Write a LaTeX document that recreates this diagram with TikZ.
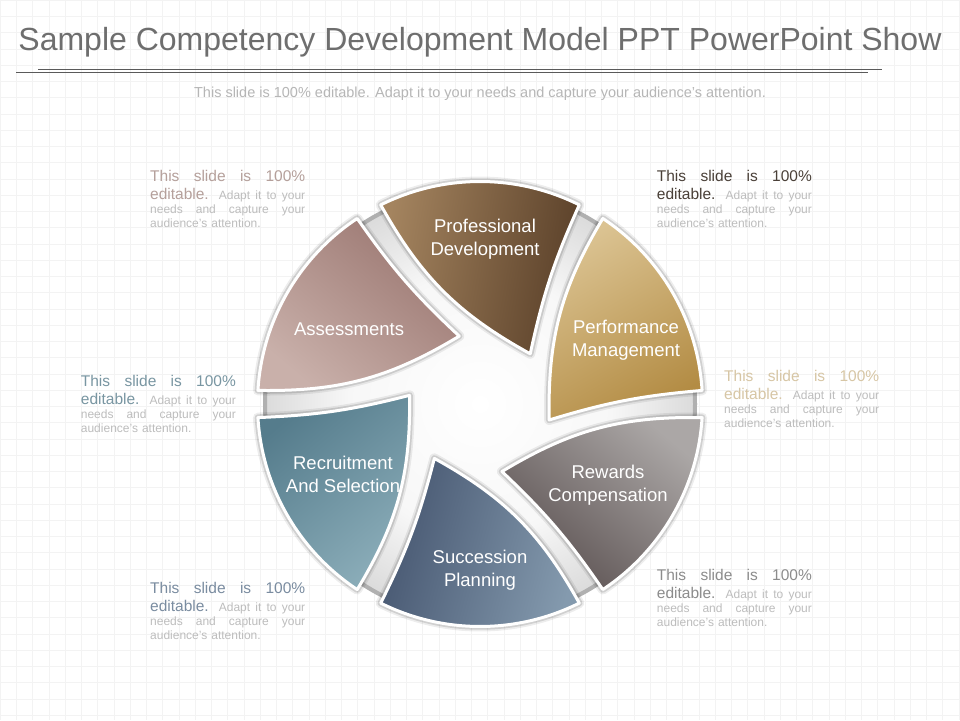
\documentclass[tikz,border=0pt]{standalone}
\usepackage{fontspec}
\setmainfont{Liberation Sans}
\usetikzlibrary{calc, positioning}

\definecolor{titlegray}{HTML}{6E6E6E}
\definecolor{subgray}{HTML}{B6B6B6}
\definecolor{rulegray}{HTML}{5A5A5A}
\definecolor{gridgray}{HTML}{F3F3F3}
\definecolor{notegray}{HTML}{BDBDBD}
\definecolor{ringgray}{HTML}{DADADA}
\definecolor{ringedge}{HTML}{B0B0B0}
% blade shades
\definecolor{profA}{HTML}{A4845F}\definecolor{profB}{HTML}{5A4029}
\definecolor{perfA}{HTML}{DBC392}\definecolor{perfB}{HTML}{B38C44}
\definecolor{rewdA}{HTML}{ABA7A6}\definecolor{rewdB}{HTML}{5B5151}
\definecolor{succA}{HTML}{465670}\definecolor{succB}{HTML}{849AAE}
\definecolor{recrA}{HTML}{557C8C}\definecolor{recrB}{HTML}{8BADB9}
\definecolor{asmtA}{HTML}{9B7771}\definecolor{asmtB}{HTML}{C9B0AA}
% note heads
\definecolor{asmtnote}{HTML}{B5A09B}
\definecolor{profnote}{HTML}{4A4038}
\definecolor{recrnote}{HTML}{7996A2}
\definecolor{perfnote}{HTML}{D7C6A5}
\definecolor{succnote}{HTML}{7A8CA0}
\definecolor{rewdnote}{HTML}{8C8C8C}

\pgfdeclareradialshading{diskshade}{\pgfpointorigin}{%
  color(0bp)=(white); color(15bp)=(white!97!black);
  color(25bp)=(ringgray); color(50bp)=(ringgray)}

\def\notew{155pt}
\newcommand{\jline}[1]{\makebox[\notew][s]{\spaceskip=0pt\xspaceskip=0pt #1}}
\newcommand{\blurb}[1]{%
  \jline{\color{#1}\fontsize{15.5}{14}\selectfont This slide is 100\%}\\[4.3pt]
  \jline{{\color{#1}\fontsize{15.5}{14}\selectfont editable.} Adapt it to your}\\
  \jline{needs and capture your}\\
  audience's attention.}

\begin{document}
\begin{tikzpicture}[x=1pt, y=1pt,
    blade/.style={draw=white, line width=3pt, line join=round,
      preaction={draw=black, opacity=0.07, line width=10pt, line join=round},
      preaction={draw=black, opacity=0.12, line width=6.5pt, line join=round}},
    lbl/.style={text=white, font=\fontsize{18.5}{23}\selectfont, align=center},
    note/.style={anchor=north west, inner sep=0pt, text width=\notew, align=left,
      font=\fontsize{12}{14}\selectfont, text=notegray},
    rule/.style={draw=rulegray, line width=1pt},
]
\useasboundingbox (0,0) rectangle (960,-720);
\fill[white] (0,0) rectangle (960,-720);
\draw[gridgray, line width=0.5pt] (0,-720) grid[step=16.25] (960,0);

% heading
\node[anchor=base, font=\fontsize{32}{36}\selectfont, text=titlegray] (title) at (480,-50)
  {Sample Competency Development Model PPT PowerPoint Show};
\draw[rule] (38,-69.3) -- (882,-69.3);
\draw[rule] (16,-72) -- (868,-72);
\node[anchor=base, font=\fontsize{14.5}{17}\selectfont, text=subgray] (sub) at (480,-97.5)
  {This slide is 100\% editable. Adapt it to your needs and capture your audience's attention.};

% wheel
\begin{scope}[shift={(480,-404)}]
  \shade[shading=diskshade] (0,0) circle (217);
  \draw[ringedge, line width=4pt] (0,0) circle (215);
  \foreach \ang/\tip/\ca/\cb/\sh in {90/45/profA/profB/80, 30/43/perfA/perfB/30,
      -30/42/rewdA/rewdB/-40, -90/40/succA/succB/75, -150/37/recrA/recrB/40,
      150/43/asmtA/asmtB/-40}
    \path[blade, top color=\ca, bottom color=\cb, shading angle=\sh]
      (\ang+26.5:222.5) arc[start angle=\ang+26.5, end angle=\ang-26.5, radius=222.5]
      to[bend right=6] (\ang-\tip:71) to[bend left=16] cycle;

  \node[lbl] (prof) at (5,165) {Professional\\Development};
  \node[lbl] (perf) at (146,64) {Performance\\Management};
  \node[lbl] (rewd) at (128,-81) {Rewards\\Compensation};
  \node[lbl] (succ) at (0,-166) {Succession\\Planning};
  \node[lbl] (recr) at (-137,-70) {Recruitment\\And Selection};
  \node[lbl] (asmt) at (-131,75) {Assessments};
\end{scope}

% notes
\node[note] (note-asmt) at (150,-169.7) {\blurb{asmtnote}};
\node[note] (note-prof) at (656.7,-169.7) {\blurb{profnote}};
\node[note] (note-recr) at (80.7,-374.7) {\blurb{recrnote}};
\node[note] (note-perf) at (724,-369.7) {\blurb{perfnote}};
\node[note] (note-succ) at (150,-581.7) {\blurb{succnote}};
\node[note] (note-rewd) at (656.7,-568.7) {\blurb{rewdnote}};
\end{tikzpicture}
\end{document}
